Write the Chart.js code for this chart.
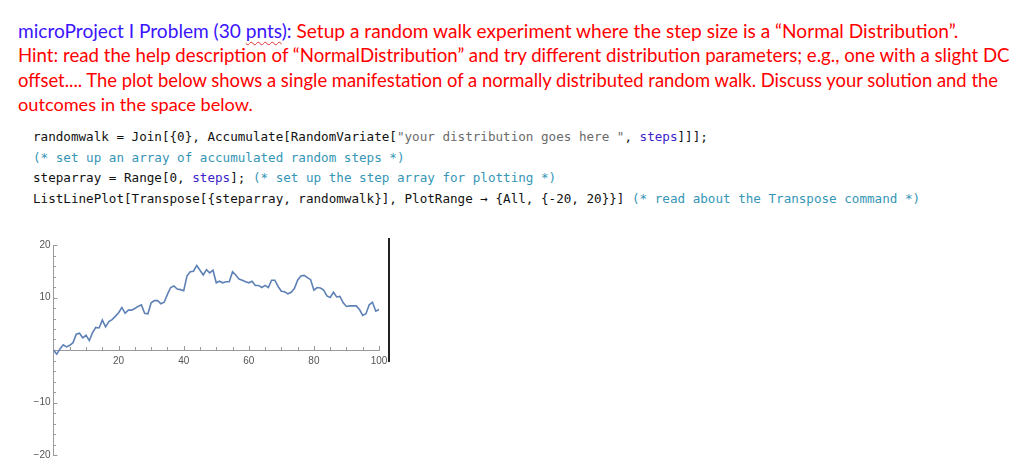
<!DOCTYPE html>
<html>
<head>
<meta charset="utf-8">
<script src="https://cdn.jsdelivr.net/npm/chart.js@4.4.0/dist/chart.umd.min.js"></script>
<style>
  html, body { margin: 0; padding: 0; background: #fff; width: 1024px; height: 464px; overflow: hidden; }
  .t { position: absolute; left: 18px; white-space: nowrap; font-family: Lato, "Open Sans", sans-serif; font-size: 19px; color: #ff0000; line-height: 1; }
  .blue { color: #3a14ff; }
  .pn { text-decoration: underline wavy #e03030; text-decoration-thickness: 1px; text-underline-offset: 3px; }
  .c { position: absolute; left: 33px; white-space: nowrap; font-family: "DejaVu Sans Mono", monospace; font-size: 12.6px; color: #111; line-height: 1; }
  .str { color: #6b6b6b; }
  .var { color: #3b22c9; }
  .cm { color: #3596b5; }
  #wrap { position: absolute; left: 0; top: 236px; width: 400px; height: 228px; }
  #bracket { position: absolute; left: 388px; top: 238px; width: 1.5px; height: 124px; background: #222; }
</style>
</head>
<body>
<div class="t" data-w="940" style="top:21px"><span class="blue">microProject I Problem (30 <span class="pn">pnts</span>):</span> Setup a random walk experiment where the step size is a “Normal Distribution”.</div>
<div class="t" data-w="992" style="top:46px">Hint: read the help description of “NormalDistribution” and try different distribution parameters; e.g., one with a slight DC</div>
<div class="t" data-w="980" style="top:71px">offset.... The plot below shows a single manifestation of a normally distributed random walk. Discuss your solution and the</div>
<div class="t" data-w="235" style="top:95px">outcomes in the space below.</div>

<div class="c" style="top:131px">randomwalk = Join[{0}, Accumulate[RandomVariate[<span class="str">"your distribution goes here "</span>, <span class="var">steps</span>]]];</div>
<div class="c cm" style="top:152px">(* set up an array of accumulated random steps *)</div>
<div class="c" style="top:172px">steparray = Range[0, <span class="var">steps</span>]; <span class="cm">(* set up the step array for plotting *)</span></div>
<div class="c" style="top:193px">ListLinePlot[Transpose[{steparray, randomwalk}], PlotRange → {All, {-20, 20}}] <span class="cm">(* read about the Transpose command *)</span></div>

<div id="wrap"><canvas id="plot"></canvas></div>
<div id="bracket"></div>

<script>
// fit each heading line to the width it has in the picture
document.querySelectorAll('.t').forEach(el => {
  const target = +el.dataset.w;
  const w = el.getBoundingClientRect().width;
  el.style.fontSize = (19 * target / w).toFixed(2) + 'px';
});

// step index (Range[0, steps])
const stepArray = [0,1,2,3,4,5,6,7,8,9,10,11,12,13,14,15,16,17,18,19,20,
  21,22,23,24,25,26,27,28,29,30,31,32,33,34,35,36,37,38,39,40,
  41,42,43,44,45,46,47,48,49,50,51,52,53,54,55,56,57,58,59,60,
  61,62,63,64,65,66,67,68,69,70,71,72,73,74,75,76,77,78,79,80,
  81,82,83,84,85,86,87,88,89,90,91,92,93,94,95,96,97,98,99,100];

// one manifestation of the walk
const randomWalk = [0,-0.8,0.2,1.0,0.6,0.9,1.4,3.0,3.2,2.3,2.8,
  1.8,3.3,4.3,4.2,5.7,4.4,5.4,5.8,6.4,7.1,
  8.1,7.0,7.6,7.6,7.9,8.3,8.6,7.0,6.9,9.0,
  9.4,9.4,8.8,9.1,10.6,11.9,12.2,11.6,11.5,11.3,
  14.1,14.9,15.0,16.1,15.2,14.3,15.3,14.7,15.2,12.8,
  13.1,12.8,13.0,13.0,14.9,14.3,13.5,13.3,13.0,12.8,
  13.1,12.3,12.3,11.9,12.3,11.9,13.3,13.3,12.1,11.2,
  11.1,10.7,11.0,11.7,13.3,14.1,14.2,13.8,13.4,11.4,
  11.9,11.8,11.4,10.3,10.0,11.0,10.1,10.2,9.0,8.3,
  8.4,8.4,8.4,7.7,6.6,6.9,8.6,9.1,7.4,7.7];

const xLabels = [20, 40, 60, 80, 100];
const yLabels = [-20, -10, 10, 20];

// Mathematica style inward ticks: major + minor
const tickMarks = {
  id: 'tickMarks',
  afterDraw(chart) {
    const ctx = chart.ctx;
    const xs = chart.scales.x, ys = chart.scales.y;
    const y0 = ys.getPixelForValue(0);
    const x0 = xs.getPixelForValue(0);
    ctx.save();
    ctx.strokeStyle = '#9a9a9a';
    ctx.lineWidth = 1;
    ctx.beginPath();
    for (let v = 5; v <= 100; v += 5) {
      const px = Math.round(xs.getPixelForValue(v)) + 0.5;
      const len = v % 20 === 0 ? 4 : 3;
      ctx.moveTo(px, y0);
      ctx.lineTo(px, y0 - len);
    }
    for (let v = -20; v <= 20; v += 2) {
      if (v === 0) continue;
      const py = Math.round(ys.getPixelForValue(v)) + 0.5;
      const len = v % 10 === 0 ? 4 : 2.5;
      ctx.moveTo(x0, py);
      ctx.lineTo(x0 + len, py);
    }
    ctx.stroke();
    ctx.restore();
  }
};

new Chart(document.getElementById('plot'), {
  type: 'line',
  data: {
    labels: stepArray,
    datasets: [{
      data: randomWalk,
      borderColor: '#5e81b5',
      borderWidth: 1.6,
      pointRadius: 0,
      tension: 0,
      fill: false
    }]
  },
  options: {
    responsive: true,
    maintainAspectRatio: false,
    animation: false,
    layout: { padding: { left: 0, right: 21, top: 8, bottom: 8 } },
    plugins: { legend: { display: false }, tooltip: { enabled: false } },
    scales: {
      x: {
        type: 'linear',
        min: 0,
        max: 100,
        position: { y: 0 },
        grid: { drawOnChartArea: false, drawTicks: false },
        border: { color: '#9a9a9a', width: 1 },
        afterBuildTicks: (s) => { s.ticks = xLabels.map(v => ({ value: v })); },
        ticks: {
          padding: 5,
          maxRotation: 0,
          color: '#555',
          font: { family: '"Liberation Sans", Arial, sans-serif', size: 10 }
        }
      },
      y: {
        min: -20,
        max: 20,
        grid: { drawOnChartArea: false, drawTicks: false },
        border: { color: '#9a9a9a', width: 1 },
        afterFit: (s) => { s.width = 53.5; },
        afterBuildTicks: (s) => { s.ticks = yLabels.map(v => ({ value: v })); },
        ticks: {
          padding: 3,
          color: '#555',
          font: { family: '"Liberation Sans", Arial, sans-serif', size: 10 },
          callback: (v) => String(v).replace('-', '\u2212')
        }
      }
    }
  },
  plugins: [tickMarks]
});
</script>
</body>
</html>
